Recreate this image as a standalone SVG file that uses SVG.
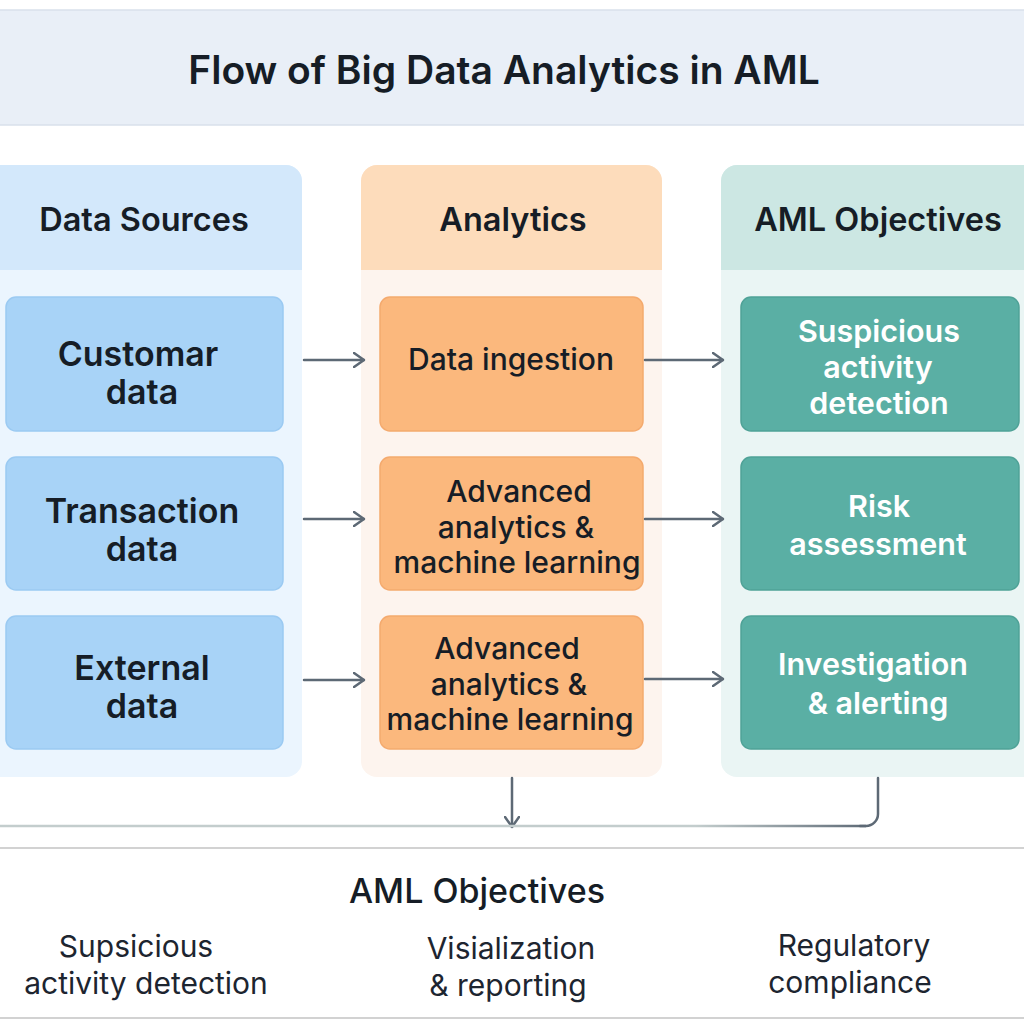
<svg xmlns="http://www.w3.org/2000/svg" width="1024" height="1024" viewBox="0 0 1024 1024">
<defs>
<style>
.t{font-family:Inter,"Noto Sans","Liberation Sans",sans-serif;text-anchor:middle;fill:#161d26}
.title{font-size:39px;font-weight:600}
.hdr{font-size:32.5px;font-weight:600}
.nd{font-size:34px;font-weight:600}
.nd2{font-size:30px;font-weight:500}
.wh{fill:#ffffff;font-weight:600;font-size:30.5px}
.sub{font-size:34px;font-weight:500}
.item{font-size:30px;font-weight:400;fill:#1d2530}
.conn{fill:none;stroke:#5d6975;stroke-width:2.5;stroke-linecap:round;stroke-linejoin:round}
.n1{fill:#a8d3f7;stroke:#9bcaf2;stroke-width:1.5}
.n2{fill:#fbb87d;stroke:#f4aa6e;stroke-width:1.5}
.n3{fill:#5aafa4;stroke:#4fa297;stroke-width:1.5}
</style>
<marker id="ah" viewBox="0 0 12 16" refX="11" refY="8" markerWidth="12" markerHeight="16" markerUnits="userSpaceOnUse" orient="auto">
<path d="M1,1 L11,8 L1,15" fill="none" stroke="#5d6975" stroke-width="2.5" stroke-linecap="round" stroke-linejoin="round"/>
</marker>
<linearGradient id="hg" gradientUnits="userSpaceOnUse" x1="0" y1="0" x2="870" y2="0">
<stop offset="0.8" stop-color="#c3cdcd"/>
<stop offset="1" stop-color="#5d6975"/>
</linearGradient>
</defs>
<rect width="1024" height="1024" fill="#ffffff"/>
<g id="title">
<rect x="-2" y="10" width="1028" height="115" fill="#e9eff7" stroke="#d9e1eb" stroke-width="1.5"/>
<text class="t title" x="504" y="84">Flow of Big Data Analytics in AML</text>
</g>
<g id="col-data-sources">
<rect x="-30" y="165" width="332" height="612" rx="16" fill="#ebf5fe"/>
<path d="M-30,270 V181 a16,16 0 0 1 16,-16 H286 a16,16 0 0 1 16,16 V270 Z" fill="#d3e8fb"/>
<text class="t hdr" x="144" y="231">Data Sources</text>
</g>
<g id="col-analytics">
<rect x="361" y="165" width="301" height="612" rx="16" fill="#fdf4ee"/>
<path d="M361,270 V181 a16,16 0 0 1 16,-16 H646 a16,16 0 0 1 16,16 V270 Z" fill="#fddcbb"/>
<text class="t hdr" x="513" y="231">Analytics</text>
</g>
<g id="col-aml">
<rect x="721" y="165" width="330" height="612" rx="16" fill="#eaf5f4"/>
<path d="M721,270 V181 a16,16 0 0 1 16,-16 H1035 a16,16 0 0 1 16,16 V270 Z" fill="#cce7e3"/>
<text class="t hdr" x="878" y="231">AML Objectives</text>
</g>
<g id="customar-data">
<rect class="n1" x="6" y="297" width="277" height="134" rx="10"/>
<text class="t nd" x="138" y="366">Customar</text>
<text class="t nd" x="142" y="404">data</text>
</g>
<g id="transaction-data">
<rect class="n1" x="6" y="457" width="277" height="133" rx="10"/>
<text class="t nd" x="142" y="523">Transaction</text>
<text class="t nd" x="142" y="561">data</text>
</g>
<g id="external-data">
<rect class="n1" x="6" y="616" width="277" height="133" rx="10"/>
<text class="t nd" x="142" y="680">External</text>
<text class="t nd" x="142" y="718">data</text>
</g>
<g id="data-ingestion">
<rect class="n2" x="380" y="297" width="263" height="134" rx="10"/>
<text class="t nd2" x="511" y="370">Data ingestion</text>
</g>
<g id="advanced-1">
<rect class="n2" x="380" y="457" width="263" height="133" rx="10"/>
<text class="t nd2" x="519" y="502">Advanced</text>
<text class="t nd2" x="516" y="538">analytics &amp;</text>
<text class="t nd2" x="517" y="573">machine learning</text>
</g>
<g id="advanced-2">
<rect class="n2" x="380" y="616" width="263" height="133" rx="10"/>
<text class="t nd2" x="507" y="659">Advanced</text>
<text class="t nd2" x="509" y="695">analytics &amp;</text>
<text class="t nd2" x="510" y="730">machine learning</text>
</g>
<g id="suspicious-activity">
<rect class="n3" x="741" y="297" width="278" height="134" rx="10"/>
<text class="t wh" x="879" y="342">Suspicious</text>
<text class="t wh" x="878" y="378">activity</text>
<text class="t wh" x="879" y="414">detection</text>
</g>
<g id="risk-assessment">
<rect class="n3" x="741" y="457" width="278" height="133" rx="10"/>
<text class="t wh" x="879" y="517">Risk</text>
<text class="t wh" x="878" y="555">assessment</text>
</g>
<g id="investigation">
<rect class="n3" x="741" y="616" width="278" height="133" rx="10"/>
<text class="t wh" x="873" y="675">Investigation</text>
<text class="t wh" x="878" y="714">&amp; alerting</text>
</g>
<g id="connectors">
<line class="conn" x1="304" y1="360" x2="364" y2="360" marker-end="url(#ah)"/>
<line class="conn" x1="304" y1="519" x2="364" y2="519" marker-end="url(#ah)"/>
<line class="conn" x1="304" y1="680" x2="364" y2="680" marker-end="url(#ah)"/>
<line class="conn" x1="645" y1="360" x2="723" y2="360" marker-end="url(#ah)"/>
<line class="conn" x1="645" y1="519" x2="723" y2="519" marker-end="url(#ah)"/>
<line class="conn" x1="645" y1="679" x2="723" y2="679" marker-end="url(#ah)"/>
<line class="conn" x1="512" y1="778" x2="512" y2="827" marker-end="url(#ah)"/>
<path d="M0,826 H866" fill="none" stroke="url(#hg)" stroke-width="2.5"/>
<path class="conn" d="M878,778 V814 a12,12 0 0 1 -12,12 H860"/>
</g>
<g id="bottom-objectives">
<line x1="0" y1="848" x2="1024" y2="848" stroke="#d2d2d2" stroke-width="2"/>
<text class="t sub" x="477" y="903">AML Objectives</text>
<text class="t item" x="136" y="957">Supsicious</text>
<text class="t item" x="146" y="994">activity detection</text>
<text class="t item" x="511" y="959">Visialization</text>
<text class="t item" x="508" y="996">&amp; reporting</text>
<text class="t item" x="854" y="956">Regulatory</text>
<text class="t item" x="850" y="993">compliance</text>
<line x1="0" y1="1018" x2="1024" y2="1018" stroke="#d2d2d2" stroke-width="2"/>
</g>
</svg>
